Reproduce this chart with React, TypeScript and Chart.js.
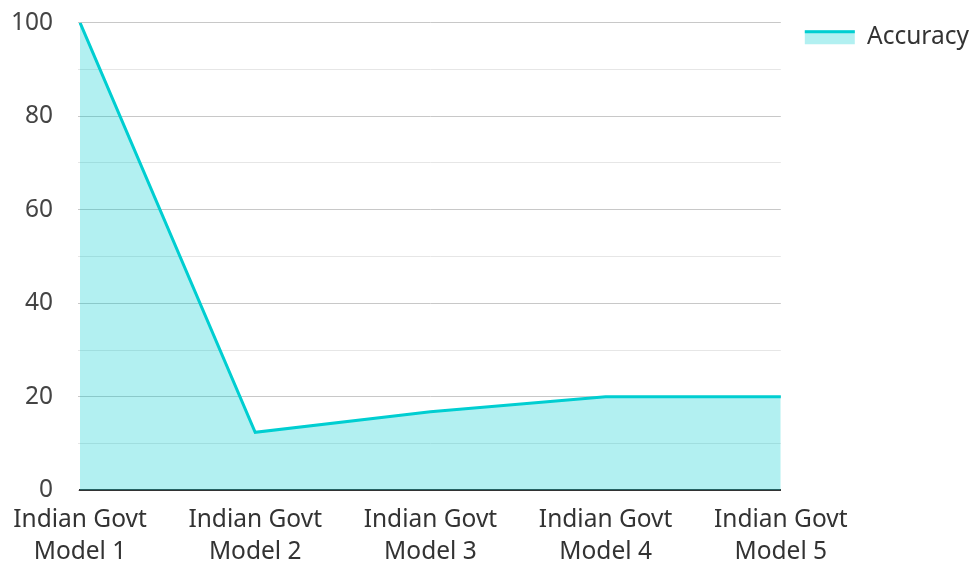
import React, { useEffect, useRef } from "react";
import { Chart, registerables } from "chart.js";

Chart.register(...registerables);

const categories: string[][] = [
  ["Indian Govt", "Model 1"],
  ["Indian Govt", "Model 2"],
  ["Indian Govt", "Model 3"],
  ["Indian Govt", "Model 4"],
  ["Indian Govt", "Model 5"],
];
const accuracy: number[] = [100, 12.4, 16.8, 20, 20];
const seriesName = "Accuracy";

const LINE = "#00CED1";
const FILL = "rgba(0, 206, 209, 0.3)";
const FONT = "'Noto Sans', 'Open Sans', sans-serif";
const FS = 24.5;

const CANVAS_W = 979;
const CANVAS_H = 591;
const CANVAS_TOP = -17;

const legendTopLine = {
  id: "legendTopLine",
  afterDraw(chart: any) {
    const lg = chart.legend;
    if (!lg || !lg.legendHitBoxes) return;
    const ctx = chart.ctx;
    const bw = lg.options.labels.boxWidth;
    const bh = lg.options.labels.boxHeight;
    lg.legendHitBoxes.forEach((hb: any) => {
      const y = hb.top + (hb.height - bh) / 2;
      ctx.save();
      ctx.fillStyle = LINE;
      ctx.fillRect(hb.left, y, bw, 3);
      ctx.restore();
    });
  },
};

export default function App() {
  const ref = useRef<HTMLCanvasElement | null>(null);
  useEffect(() => {
    if (!ref.current) return;
    const chart = new Chart(ref.current, {
      type: "line",
      data: {
        labels: categories,
        datasets: [
          {
            label: seriesName,
            data: accuracy,
            borderColor: LINE,
            backgroundColor: FILL,
            borderWidth: 3,
            fill: "origin",
            pointRadius: 0,
            tension: 0,
          },
        ],
      },
      options: {
        animation: false,
        responsive: false,
        maintainAspectRatio: false,
        layout: { padding: 0 },
        plugins: {
          tooltip: { enabled: false },
          legend: {
            position: "right",
            align: "start",
            title: {
              display: true,
              text: "",
              font: { size: 10, lineHeight: 1 },
              padding: { top: 8, bottom: 0 },
            },
            labels: {
              boxWidth: 50,
              boxHeight: 14,
              padding: 24,
              color: "#333",
              font: { family: FONT, size: FS },
              generateLabels: (chart: any) =>
                chart.data.datasets.map((ds: any, i: number) => ({
                  text: ds.label,
                  fillStyle: ds.backgroundColor,
                  strokeStyle: "transparent",
                  lineWidth: 0,
                  hidden: false,
                  datasetIndex: i,
                  fontColor: "#333",
                })),
            },
          },
        },
        scales: {
          x: {
            offset: false,
            grid: { display: false },
            border: { display: true, color: "#333", width: 2 },
            ticks: {
              color: "#333",
              font: { family: FONT, size: FS, lineHeight: 1.3 },
              maxRotation: 0,
              autoSkip: false,
              padding: 6,
            },
          },
          y: {
            min: 0,
            max: 100,
            border: { display: false },
            afterFit: (scale: any) => {
              scale.width = 80;
            },
            grid: {
              color: (c: any) => (c.tick && c.tick.value % 20 === 0 ? "#c8c8c8" : "#e6e6e6"),
              lineWidth: 1,
              tickLength: 2,
              drawTicks: true,
            },
            ticks: {
              stepSize: 10,
              color: "#444",
              padding: 25,
              font: { family: FONT, size: FS },
              callback: (v: any) => (Number(v) % 20 === 0 ? String(v) : ""),
            },
          },
        },
      },
      plugins: [legendTopLine],
    });
    return () => chart.destroy();
  }, []);
  return (
    <div
      style={{
        position: "fixed",
        left: 0,
        top: 0,
        width: 971,
        height: 562,
        overflow: "hidden",
        background: "#fff",
      }}
    >
      <canvas
        ref={ref}
        width={CANVAS_W}
        height={CANVAS_H}
        style={{ position: "absolute", left: 0, top: CANVAS_TOP }}
      />
    </div>
  );
}
